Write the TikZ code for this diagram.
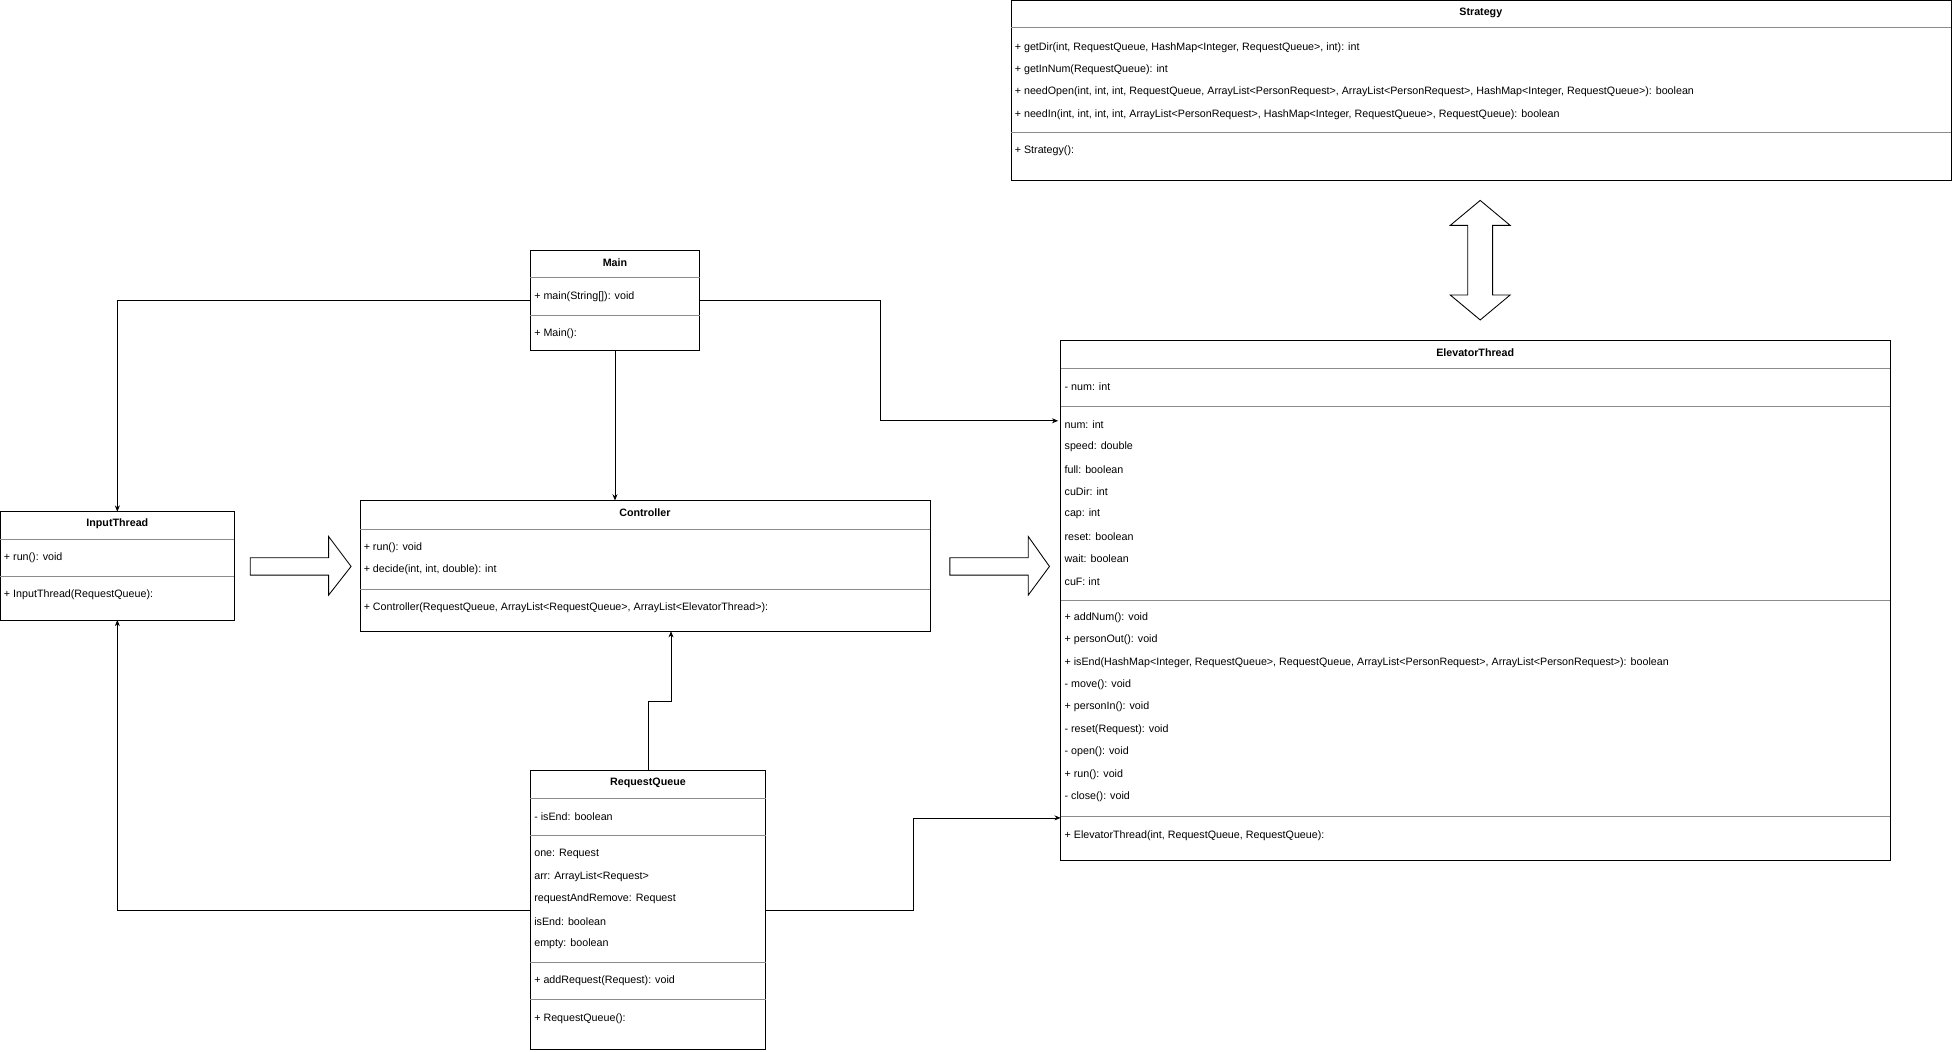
\documentclass[tikz,border=0pt]{standalone}
\usepackage{fontspec}
\setmainfont{Liberation Sans}
\usetikzlibrary{arrows.meta}
\begin{document}
\begin{tikzpicture}[x=1pt,y=-1pt,
  box/.style={draw,inner sep=0,outer sep=0},
  t/.style={anchor=west,inner sep=0,font=\fontsize{8.6}{10}\selectfont},
  h/.style={inner sep=0,font=\fontsize{8.6}{10}\selectfont\bfseries},
  ln/.style={draw=black!45,line width=0.5pt},
  con/.style={draw,line width=0.6pt,-{Stealth[length=5pt,width=4pt]}},
  blk/.style={draw,line width=0.7pt,fill=white}]
\useasboundingbox (0,0) rectangle (1568,845);
\newcommand{\ubox}[6]{\node[box,minimum width=#4-#2,minimum height=#5-#3] (#1) at ({(#2+#4)/2},{(#3+#5)/2}) {};
  \node[h] (#1-title) at ({(#2+#4)/2},#3+10) {#6};}
\newcommand{\sep}[3]{\draw[ln] (#1,#3) -- (#2,#3);}
% Strategy
\ubox{strategy}{812}{0.5}{1567}{145}{Strategy}
\sep{812}{1567}{22}\sep{812}{1567}{106}
\node[t] (s1) at (815,38) {+ getDir(int, RequestQueue, HashMap<Integer, RequestQueue>, int): int};
\node[t] (s2) at (815,56) {+ getInNum(RequestQueue): int};
\node[t] (s3) at (815,74) {+ needOpen(int, int, int, RequestQueue, ArrayList<PersonRequest>, ArrayList<PersonRequest>, HashMap<Integer, RequestQueue>): boolean};
\node[t] (s4) at (815,92) {+ needIn(int, int, int, int, ArrayList<PersonRequest>, HashMap<Integer, RequestQueue>, RequestQueue): boolean};
\node[t] (s5) at (815,121) {+ Strategy():};
% Main
\ubox{main}{426}{201}{562}{281}{Main}
\sep{426}{562}{223}\sep{426}{562}{253}
\node[t] (m1) at (429,238) {+ main(String[]): void};
\node[t] (m2) at (429,268) {+ Main():};
% InputThread
\ubox{input}{0.5}{411}{188}{498}{InputThread}
\sep{0}{188}{433}\sep{0}{188}{463}
\node[t] (i1) at (3,448) {+ run(): void};
\node[t] (i2) at (3,478) {+ InputThread(RequestQueue):};
% Controller
\ubox{ctrl}{289}{402}{747}{507}{Controller}
\sep{289}{747}{425}\sep{289}{747}{473}
\node[t] (c1) at (292,440) {+ run(): void};
\node[t] (c2) at (292,458) {+ decide(int, int, double): int};
\node[t] (c3) at (292,488) {+ Controller(RequestQueue, ArrayList<RequestQueue>, ArrayList<ElevatorThread>):};
% RequestQueue
\ubox{rq}{426}{619}{615}{843}{RequestQueue}
\sep{426}{615}{641}\sep{426}{615}{671}\sep{426}{615}{773}\sep{426}{615}{803}
\node[t] (r1) at (429,656) {- isEnd: boolean};
\node[t] (r2) at (429,686) {one: Request};
\node[t] (r3) at (429,704) {arr: ArrayList<Request>};
\node[t] (r4) at (429,722) {requestAndRemove: Request};
\node[t] (r5) at (429,740) {isEnd: boolean};
\node[t] (r6) at (429,758) {empty: boolean};
\node[t] (r7) at (429,788) {+ addRequest(Request): void};
\node[t] (r8) at (429,818) {+ RequestQueue():};
% ElevatorThread
\ubox{elev}{852}{273}{1518}{691}{ElevatorThread}
\sep{852}{1518}{296}\sep{852}{1518}{326}\sep{852}{1518}{482}\sep{852}{1518}{656}
\node[t] (e0) at (855,311) {- num: int};
\node[t] (ea1) at (855,341) {num: int};
\node[t] (ea2) at (855,359) {speed: double};
\node[t] (ea3) at (855,377) {full: boolean};
\node[t] (ea4) at (855,395) {cuDir: int};
\node[t] (ea5) at (855,413) {cap: int};
\node[t] (ea6) at (855,431) {reset: boolean};
\node[t] (ea7) at (855,449) {wait: boolean};
\node[t] (ea8) at (855,467) {cuF: int};
\node[t] (em1) at (855,496) {+ addNum(): void};
\node[t] (em2) at (855,514) {+ personOut(): void};
\node[t] (em3) at (855,532) {+ isEnd(HashMap<Integer, RequestQueue>, RequestQueue, ArrayList<PersonRequest>, ArrayList<PersonRequest>): boolean};
\node[t] (em4) at (855,550) {- move(): void};
\node[t] (em5) at (855,568) {+ personIn(): void};
\node[t] (em6) at (855,586) {- reset(Request): void};
\node[t] (em7) at (855,604) {- open(): void};
\node[t] (em8) at (855,622) {+ run(): void};
\node[t] (em9) at (855,640) {- close(): void};
\node[t] (em10) at (855,671) {+ ElevatorThread(int, RequestQueue, RequestQueue):};
% connectors
\coordinate (e1) at (850,338);
\coordinate (e2) at (852,657);
\draw[con] (main.west |- 0,241) -| (input.north);
\draw[con] (main.south) -- (main.south |- ctrl.north);
\draw[con] (main.east |- 0,241) -- (707,241) |- (e1);
\draw[con] (521,619) -- (521,563) -- (539,563) -- (539,507);
\draw[con] (rq.west |- 0,731) -| (input.south);
\draw[con] (rq.east |- 0,731) -- (734,731) |- (e2);
% block arrows
\draw[blk] (201,448) -- (264,448) -- (264,431) -- (282,455) -- (264,478) -- (264,462) -- (201,462) -- cycle;
\draw[blk] (763,448) -- (826,448) -- (826,431) -- (843,455) -- (826,478) -- (826,462) -- (763,462) -- cycle;
\draw[blk] (1189,161) -- (1213,181) -- (1199,181) -- (1199,237) -- (1213,237) -- (1189,257) -- (1165,237) -- (1179,237) -- (1179,181) -- (1165,181) -- cycle;
\end{tikzpicture}
\end{document}
